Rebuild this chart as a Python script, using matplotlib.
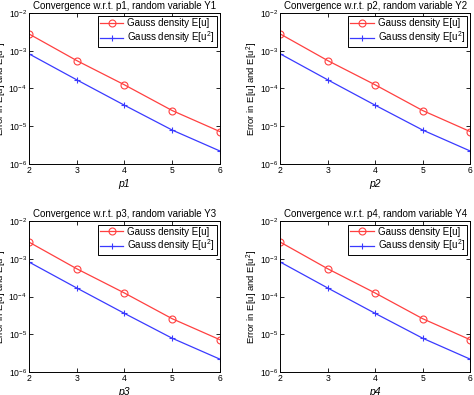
import matplotlib
matplotlib.use("Agg")
import matplotlib.pyplot as plt

plt.rcParams['font.family'] = ['Liberation Sans', 'DejaVu Sans']
plt.rcParams['mathtext.fontset'] = 'custom'
plt.rcParams['mathtext.rm'] = 'Liberation Sans'

p_values = [2, 3, 4, 5, 6]
err_mean = [2.8e-3, 5.5e-4, 1.25e-4, 2.6e-5, 7.2e-6]
err_second = [8.3e-4, 1.7e-4, 3.6e-5, 7.9e-6, 2.2e-6]
panel_names = ["p1", "p2", "p3", "p4"]
variable_names = ["Y1", "Y2", "Y3", "Y4"]

# axes boxes in figure fractions [left, bottom, width, height]
positions = [
    [0.061, 0.585, 0.403, 0.382],
    [0.591, 0.585, 0.401, 0.382],
    [0.061, 0.058, 0.403, 0.382],
    [0.591, 0.058, 0.401, 0.382],
]

fig = plt.figure(figsize=(4.74, 3.95), dpi=100)

for pos, pname, vname in zip(positions, panel_names, variable_names):
    ax = fig.add_axes(pos)
    ax.semilogy(p_values, err_mean, color="#ff4040", marker="o", markersize=5,
                markerfacecolor="none", markeredgewidth=0.8, linewidth=0.9,
                label="Gauss density E[u]")
    ax.semilogy(p_values, err_second, color="#3a3aff", marker="+", markersize=5,
                markeredgewidth=0.8, linewidth=0.9,
                label="Gauss density E[u$^2$]")
    ax.set_xlim(2, 6)
    ax.set_ylim(1e-6, 1e-2)
    ax.set_xticks(p_values)
    ax.set_yticks([1e-6, 1e-5, 1e-4, 1e-3, 1e-2])
    ax.minorticks_off()
    ax.tick_params(direction="in", labelsize=6.2, length=3, width=0.6,
                   top=True, right=True, pad=1.5)
    for s in ax.spines.values():
        s.set_linewidth(0.7)
    ax.set_title(f"Convergence w.r.t. {pname}, random variable {vname}",
                 fontsize=7, pad=3)
    ax.set_xlabel(pname, fontsize=7.5, style="italic")
    ax.xaxis.set_label_coords(0.5, -0.1)
    ax.set_ylabel("Error in E[u] and E[u$^2$]", fontsize=6.8)
    ax.yaxis.set_label_coords(-0.105, 0.5)
    leg = ax.legend(loc="upper right", fontsize=7, fancybox=False,
                    framealpha=1, edgecolor="black", borderpad=0.2,
                    handlelength=2.4, handletextpad=0.4, labelspacing=0.1,
                    borderaxespad=0.35)
    leg.get_frame().set_linewidth(0.7)

fig.savefig("out.png", dpi=100)
